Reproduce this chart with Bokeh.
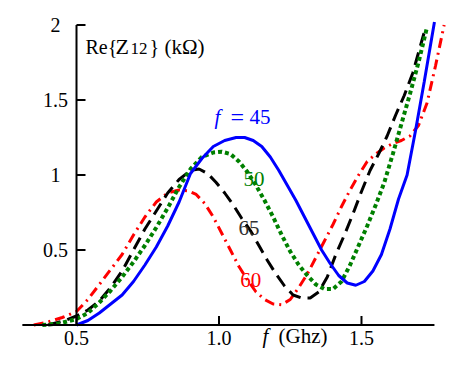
import math
from bokeh.plotting import figure
from bokeh.models import Range1d, ColumnDataSource
from bokeh.core.properties import value
from bokeh.embed import file_html
from bokeh.resources import INLINE

# ---- data ----
x45 = [0.50, 0.54, 0.58, 0.62, 0.66, 0.70, 0.74, 0.78, 0.82, 0.86, 0.90, 0.94, 0.98,
       1.02, 1.06, 1.09, 1.12, 1.15, 1.18, 1.21, 1.24, 1.27, 1.30, 1.33, 1.36, 1.39,
       1.42, 1.45, 1.48, 1.51, 1.54, 1.57, 1.60, 1.63, 1.66, 1.69, 1.72, 1.756]
y45 = [0.00, 0.03, 0.08, 0.14, 0.20, 0.29, 0.40, 0.52, 0.66, 0.82, 1.01, 1.11, 1.19,
       1.23, 1.25, 1.25, 1.23, 1.19, 1.12, 1.03, 0.93, 0.83, 0.72, 0.61, 0.50, 0.41,
       0.33, 0.28, 0.265, 0.29, 0.36, 0.47, 0.64, 0.84, 1.00, 1.30, 1.62, 2.02]

x50 = [0.38, 0.44, 0.50, 0.54, 0.58, 0.62, 0.66, 0.70, 0.74, 0.78, 0.82, 0.86, 0.90,
       0.94, 0.98, 1.01, 1.04, 1.07, 1.10, 1.13, 1.16, 1.19, 1.22, 1.25, 1.28, 1.31,
       1.34, 1.37, 1.40, 1.43, 1.46, 1.49, 1.52, 1.55, 1.58, 1.61, 1.64, 1.67, 1.70, 1.728]
y50 = [0.00, 0.01, 0.04, 0.08, 0.15, 0.23, 0.32, 0.42, 0.53, 0.65, 0.78, 0.92, 1.04,
       1.12, 1.15, 1.155, 1.14, 1.09, 1.02, 0.93, 0.83, 0.72, 0.60, 0.49, 0.40, 0.33,
       0.27, 0.24, 0.24, 0.29, 0.40, 0.53, 0.66, 0.80, 0.95, 1.14, 1.34, 1.54, 1.75, 1.97]

x65 = [0.40, 0.46, 0.50, 0.54, 0.58, 0.62, 0.66, 0.70, 0.74, 0.78, 0.82, 0.86, 0.90,
       0.93, 0.96, 0.99, 1.02, 1.05, 1.08, 1.11, 1.14, 1.17, 1.20, 1.23, 1.26, 1.29,
       1.32, 1.35, 1.38, 1.41, 1.44, 1.47, 1.50, 1.53, 1.56, 1.59, 1.62, 1.65, 1.68, 1.72]
y65 = [0.00, 0.03, 0.06, 0.10, 0.16, 0.25, 0.36, 0.50, 0.64, 0.76, 0.88, 0.97, 1.03,
       1.04, 1.01, 0.95, 0.88, 0.80, 0.71, 0.63, 0.53, 0.43, 0.34, 0.26, 0.20, 0.18,
       0.18, 0.22, 0.32, 0.47, 0.60, 0.74, 0.89, 1.03, 1.14, 1.26, 1.40, 1.53, 1.68, 1.95]

x60 = [0.35, 0.40, 0.45, 0.50, 0.54, 0.58, 0.62, 0.66, 0.70, 0.74, 0.78, 0.82, 0.86,
       0.89, 0.92, 0.95, 0.98, 1.01, 1.04, 1.07, 1.10, 1.13, 1.16, 1.19, 1.22, 1.25,
       1.28, 1.31, 1.34, 1.37, 1.40, 1.43, 1.46, 1.49, 1.52, 1.55, 1.58, 1.61, 1.64,
       1.67, 1.70, 1.73, 1.76, 1.79]
y60 = [0.00, 0.02, 0.05, 0.09, 0.17, 0.27, 0.37, 0.47, 0.60, 0.72, 0.82, 0.88, 0.90,
       0.895, 0.87, 0.81, 0.72, 0.61, 0.50, 0.39, 0.30, 0.22, 0.17, 0.14, 0.135, 0.17,
       0.25, 0.34, 0.45, 0.56, 0.67, 0.79, 0.90, 1.00, 1.09, 1.14, 1.18, 1.21, 1.23,
       1.26, 1.33, 1.48, 1.73, 2.00]

xticks = [0.5, 1.0, 1.5]
xtick_labels = ["0.5", "1.0", "1.5"]
yticks = [0.5, 1.0, 1.5, 2.0]
ytick_labels = ["0.5", "1", "1.5", "2"]

# axis extents
X_AXIS_START, X_AXIS_END = 0.31, 1.756
Y_AXIS_AT = 0.5

FONT = value("Liberation Serif")
DY = -6.5  # baseline correction (px)

p = figure(width=458, height=350,
           x_range=Range1d(0.2333, 1.8404), y_range=Range1d(-0.17, 2.1633),
           output_backend="svg", toolbar_location=None,
           x_axis_location=None, y_axis_location=None,
           min_border_left=0, min_border_right=0, min_border_top=0, min_border_bottom=0)
p.xgrid.visible = False
p.ygrid.visible = False
p.outline_line_color = None
p.background_fill_color = "white"
p.border_fill_color = "white"

# curves
p.line(x60, y60, line_color="#ff0000", line_width=3, line_dash="10 5 2 5")
p.line(x65, y65, line_color="black", line_width=3, line_dash="13 7")
p.line(x50, y50, line_color="#008000", line_width=4, line_dash="4 3")
p.line(x45, y45, line_color="#0000ff", line_width=3)

# x axis
p.segment(x0=[X_AXIS_START], y0=[0], x1=[X_AXIS_END], y1=[0], line_color="black", line_width=2)
xsrc = ColumnDataSource(dict(x=xticks, y=[0] * len(xticks), t=xtick_labels))
p.ray(x="x", y="y", length=9, length_units="screen", angle=math.pi / 2, source=xsrc,
      line_color="black", line_width=2)
p.text(x="x", y="y", text="t", source=xsrc, y_offset=20 + DY, text_align="center",
       text_baseline="alphabetic", text_font=FONT, text_font_size="20px", text_color="black")

# y axis
p.segment(x0=[Y_AXIS_AT], y0=[0], x1=[Y_AXIS_AT], y1=[max(yticks)], line_color="black", line_width=2)
ysrc = ColumnDataSource(dict(x=[Y_AXIS_AT] * len(yticks), y=yticks, t=ytick_labels))
p.ray(x="x", y="y", length=9, length_units="screen", angle=0, source=ysrc,
      line_color="black", line_width=2)
p.text(x="x", y="y", text="t", source=ysrc, x_offset=-21, y_offset=7 + DY, text_align="center",
       text_baseline="alphabetic", text_font=FONT, text_font_size="20px", text_color="black")


def lab(x, y, text, color="black", italic=False, size="21px", xo=0, yo=0):
    p.text(x=[x], y=[y], text=[text], x_offset=xo, y_offset=yo + DY,
           text_font=FONT, text_font_size=size,
           text_font_style="italic" if italic else "normal",
           text_color=color, text_baseline="alphabetic", text_align="left")


# y axis title  Re{Z12} (kΩ)
YT_X, YT_Y = 0.5316, 1.81
lab(YT_X, YT_Y, "Re{", size="20px")
lab(YT_X, YT_Y, "Z", size="22px", xo=30)
lab(YT_X, YT_Y, "12", size="17px", xo=45, yo=2)
lab(YT_X, YT_Y, "}", size="20px", xo=64)
lab(YT_X, YT_Y, "(kΩ)", size="21px", xo=79)

# x axis title  f (Ghz)
XT_X, XT_Y = 1.1526, -0.12
lab(XT_X, XT_Y, "f", italic=True)
lab(XT_X, XT_Y, "(Ghz)", xo=16)

# curve labels
lab(0.9842, 1.34, "f", color="#0000ff", italic=True)
lab(0.9842, 1.34, "=", color="#0000ff", xo=16, size="24px")
lab(0.9842, 1.34, "45", color="#0000ff", xo=35)
lab(1.086, 0.93, "50", color="#008000")
lab(1.068, 0.60, "65", color="#333333")
lab(1.075, 0.257, "60", color="#ff0000")

open("out.html", "w").write(file_html(p, INLINE))
